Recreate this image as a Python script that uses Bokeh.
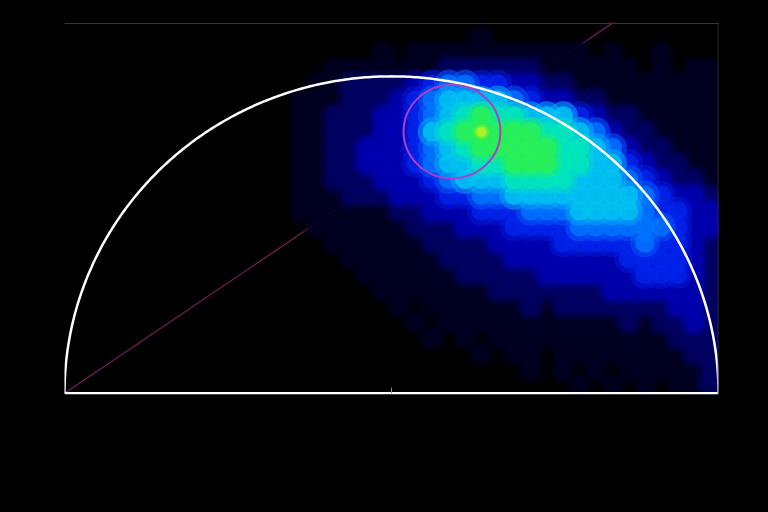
import math
from bokeh.plotting import figure
from bokeh.models import Range1d, Span
from bokeh.embed import file_html
from bokeh.resources import INLINE

# ---- data ----
# phasor-density grid: columns x = 0.35 .. 1.00 (step 0.025), rows listed top (y 0.55-0.575) to bottom (y 0-0.025)
grid_x0 = 0.35
grid_y0 = 0.0
cell = 0.025
density_rows = [
    [0,0,0,0,0,0,0,0,0,0,0,1,0,0,0,0,0,0,0,0,0,0,0,0,0,0],
    [0,0,0,0,0,1,0,1,1,1,1,1,1,1,1,1,1,1,0,1,0,0,1,0,0,0],
    [0,0,1,1,1,1,1,1,1,2,2,2,2,2,2,1,1,1,1,1,1,0,1,0,1,1],
    [0,1,1,2,2,2,2,3,4,5,5,4,4,3,3,2,2,1,1,1,1,1,1,1,1,1],
    [1,1,1,2,2,2,3,4,5,6,6,6,6,5,4,3,3,2,2,1,1,1,1,1,1,1],
    [1,1,2,2,2,3,3,4,5,6,7,8,7,7,6,6,6,4,3,2,2,1,1,1,1,1],
    [1,1,2,2,2,3,3,4,6,7,8,9,8,8,8,7,7,6,5,3,2,2,1,1,1,1],
    [1,1,2,2,3,3,3,4,5,6,7,8,8,8,8,8,7,7,6,5,3,2,2,1,1,1],
    [1,1,2,2,3,3,3,4,5,6,6,7,7,8,8,8,7,7,6,6,4,3,2,2,1,1],
    [1,1,2,2,2,3,3,3,4,5,6,6,6,7,7,7,7,6,6,6,5,4,3,2,2,1],
    [1,1,1,2,2,2,3,3,3,4,4,5,5,6,6,6,6,6,6,6,6,5,4,3,3,2],
    [1,1,1,1,1,1,2,2,3,3,3,4,4,4,5,5,5,6,6,6,6,5,4,4,3,3],
    [0,1,1,1,1,1,1,2,2,2,3,3,3,4,4,4,4,5,5,5,5,5,5,4,3,3],
    [0,0,1,1,1,1,1,1,2,2,2,2,3,3,3,3,4,4,4,4,4,5,4,4,3,2],
    [0,0,0,1,1,1,1,1,1,2,2,2,2,3,3,3,3,3,3,3,4,4,4,4,3,2],
    [0,0,0,0,1,1,1,1,1,1,2,2,2,2,2,3,3,3,3,3,3,4,4,4,3,2],
    [0,0,0,0,0,1,1,1,1,1,1,1,2,2,2,2,2,2,2,3,3,3,3,3,3,2],
    [0,0,0,0,0,0,1,0,1,1,1,1,1,1,2,1,2,2,2,2,2,2,2,3,3,2],
    [0,0,0,0,0,0,0,1,0,1,1,1,1,1,1,1,1,1,1,1,2,1,2,2,3,2],
    [0,0,0,0,0,0,0,0,1,0,1,0,1,1,1,1,1,1,1,1,1,1,1,2,2,2],
    [0,0,0,0,0,0,0,0,0,0,0,1,0,1,1,0,1,1,1,1,1,1,1,1,2,2],
    [0,0,0,0,0,0,0,0,0,0,0,0,0,0,1,0,1,0,1,0,1,1,1,1,1,2],
    [0,0,0,0,0,0,0,0,0,0,0,0,0,0,0,0,0,1,0,1,0,1,0,1,1,2],
]
level_colors = ["#000000", "#000024", "#000066", "#0000b4", "#0026ee",
                "#0078ff", "#00c6f0", "#00e8b8", "#2cf050", "#c8f018"]

circle_center_x = 0.5925
circle_center_y = 0.413
circle_radius = 0.074
semicircle_center = 0.5
semicircle_radius = 0.5
tick_positions = [0.5]

# ---- figure ----
p = figure(width=768, height=512, output_backend="svg", toolbar_location=None,
           x_range=Range1d(0, 1), y_range=Range1d(-0.002, 0.585),
           x_axis_location=None, y_axis_location=None,
           background_fill_color="black", border_fill_color="black",
           min_border_left=64, min_border_right=50, min_border_top=22, min_border_bottom=118)
p.grid.visible = False
p.outline_line_color = None

# diagonal through the cursor centre (drawn underneath the cloud)
slope = circle_center_y / circle_center_x
p.line([0, 1], [0, slope * 1], line_color="#7a1f5e", line_width=1.2)

# density cells, drawn level by level as soft overlapping blobs
n_rows = len(density_rows)
for lev in range(1, len(level_colors)):
    xs, ys = [], []
    for r, row in enumerate(density_rows):
        yc = grid_y0 + (n_rows - 1 - r) * cell + cell / 2
        for c, v in enumerate(row):
            if v >= lev:
                xs.append(grid_x0 + c * cell + cell / 2)
                ys.append(yc)
    if not xs:
        continue
    big = 0.9 if lev < 9 else 0.45
    core = 0.6 if lev < 9 else 0.3
    p.circle(x=xs, y=ys, radius=cell * big, fill_color=level_colors[lev],
             fill_alpha=0.35, line_color=None)
    p.circle(x=xs, y=ys, radius=cell * core, fill_color=level_colors[lev],
             fill_alpha=0.75, line_color=None)

# universal semicircle
t = [math.pi * i / 400 for i in range(401)]
sx = [semicircle_center + semicircle_radius * math.cos(a) for a in t]
sy = [semicircle_radius * math.sin(a) for a in t]
p.line(sx, sy, line_color="white", line_width=2.5)
p.line([0, 1], [0, 0], line_color="white", line_width=2.5)

# cursor circle
p.ellipse(x=circle_center_x, y=circle_center_y, width=2 * circle_radius, height=2 * circle_radius,
          fill_color=None, line_color="#b03cc8", line_width=2)

# tick mark
p.segment(x0=tick_positions, y0=[0] * len(tick_positions), x1=tick_positions,
          y1=[0.009] * len(tick_positions), line_color="#888888", line_width=1)

# faint frame on top and right
p.add_layout(Span(location=0.5835, dimension="width", line_color="#3a3a3a", line_width=1))
p.add_layout(Span(location=0.9995, dimension="height", line_color="#3a3a3a", line_width=1))

html = file_html(p, INLINE)
html = html.replace("</head>", "<style>html,body{background:black;margin:0;overflow:hidden}</style></head>", 1)
open("out.html", "w").write(html)
